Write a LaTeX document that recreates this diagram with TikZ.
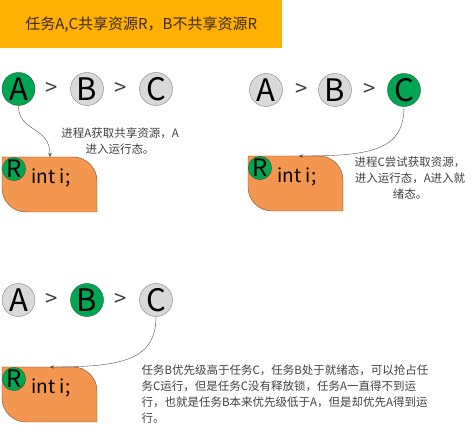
\documentclass[tikz,border=0pt]{standalone}
\usepackage{fontspec}
\setmainfont{Noto Sans CJK SC}
\usetikzlibrary{arrows.meta}
\definecolor{bannerorange}{HTML}{FFB000}
\definecolor{bannertext}{HTML}{3A2A10}
\definecolor{taskgrey}{HTML}{D9D9D9}
\definecolor{taskborder}{HTML}{7F7F7F}
\definecolor{runninggreen}{HTML}{00A651}
\definecolor{greenborder}{HTML}{1E5E34}
\definecolor{blockorange}{HTML}{F29650}
\definecolor{blockborder}{HTML}{7A4A26}
\definecolor{notegrey}{HTML}{404040}
\definecolor{linkgrey}{HTML}{505050}
\tikzset{
  task/.style={draw=taskborder, circle, fill=taskgrey, minimum size=33pt, inner sep=0pt,
    font=\fontsize{31}{31}\selectfont},
  running/.style={task, fill=runninggreen, draw=greenborder},
  res/.style={circle, draw=greenborder, fill=runninggreen, minimum size=23pt, inner sep=0pt,
    font=\fontsize{24}{24}\selectfont},
  gt/.style={font=\fontsize{22}{22}\selectfont, text=notegrey},
  note/.style={font=\fontsize{11.5}{16}\selectfont, text=notegrey, align=center},
  link/.style={draw=linkgrey, thin, -{Stealth[length=4pt,width=3.5pt]}},
  block/.style={draw=blockborder, fill=blockorange, thin}
}

\begin{document}
\begin{tikzpicture}[x=1pt, y=-1pt]
    \useasboundingbox (0,0) rectangle (474,427);

    % title
    \node[fill=bannerorange, minimum width=282pt, minimum height=48pt, anchor=north west,
      inner sep=0pt, text=bannertext, font=\fontsize{15}{15}\selectfont] (title) at (0,0)
      {任务A,C共享资源R，B不共享资源R};

    % priority rows
    \node[running](a1) at (18.5,89){A};
    \node[gt](g11) at (52,89){>};
    \node[task](b1) at (87,89){B};
    \node[gt](g12) at (121,89){>};
    \node[task](c1) at (156,89){C};

    \node[task](a2) at (266,90){A};
    \node[gt](g21) at (302,90){>};
    \node[task](b2) at (335,90){B};
    \node[gt](g22) at (370,90){>};
    \node[running](c2) at (404,90){C};

    \node[task](a3) at (18.5,300){A};
    \node[gt](g31) at (52,300){>};
    \node[running](b3) at (87,300){B};
    \node[gt](g32) at (121,300){>};
    \node[task](c3) at (156,300){C};

    % shared resource blocks
    \foreach \px/\py/\n in {2/157/1, 248/156/2, 2/367/3}{
      \draw[block] (\px,\py) -- ++(71,0) arc[start angle=-90, end angle=0, radius=24]
        -- ++(0,31) -- ++(-71,0) arc[start angle=90, end angle=180, radius=24] -- cycle;
      \node[res](r\n) at (\px+12,\py+12){R};
      \node[font=\fontsize{19}{19}\selectfont](int\n) at (\px+49,\py+21){int i;};
    }
    \coordinate (top1) at (50,157);
    \coordinate (top2) at (299,156);
    \coordinate (top3) at (50,367);

    \draw[link] (a1.south) .. controls (18,132) and (50,126) .. (top1);
    \draw[link] (c2.south) .. controls (404,150) and (372,156) .. (top2);
    \draw[link] (c3.south) .. controls (156,360) and (122,367) .. (top3);

    % notes
    \node[note](note1) at (120,141){进程A获取共享资源，A\\进入运行态。};
    \node[note](note2) at (410,178){进程C尝试获取资源，\\进入运行态，A进入就\\绪态。};
    \node[note, align=left, anchor=north west](note3) at (138,361){任务B优先级高于任务C，任务B处于就绪态，可以抢占任\\务C运行，但是任务C没有释放锁，任务A一直得不到运\\行，也就是任务B本来优先级低于A，但是却优先A得到运\\行。};
\end{tikzpicture}
\end{document}
